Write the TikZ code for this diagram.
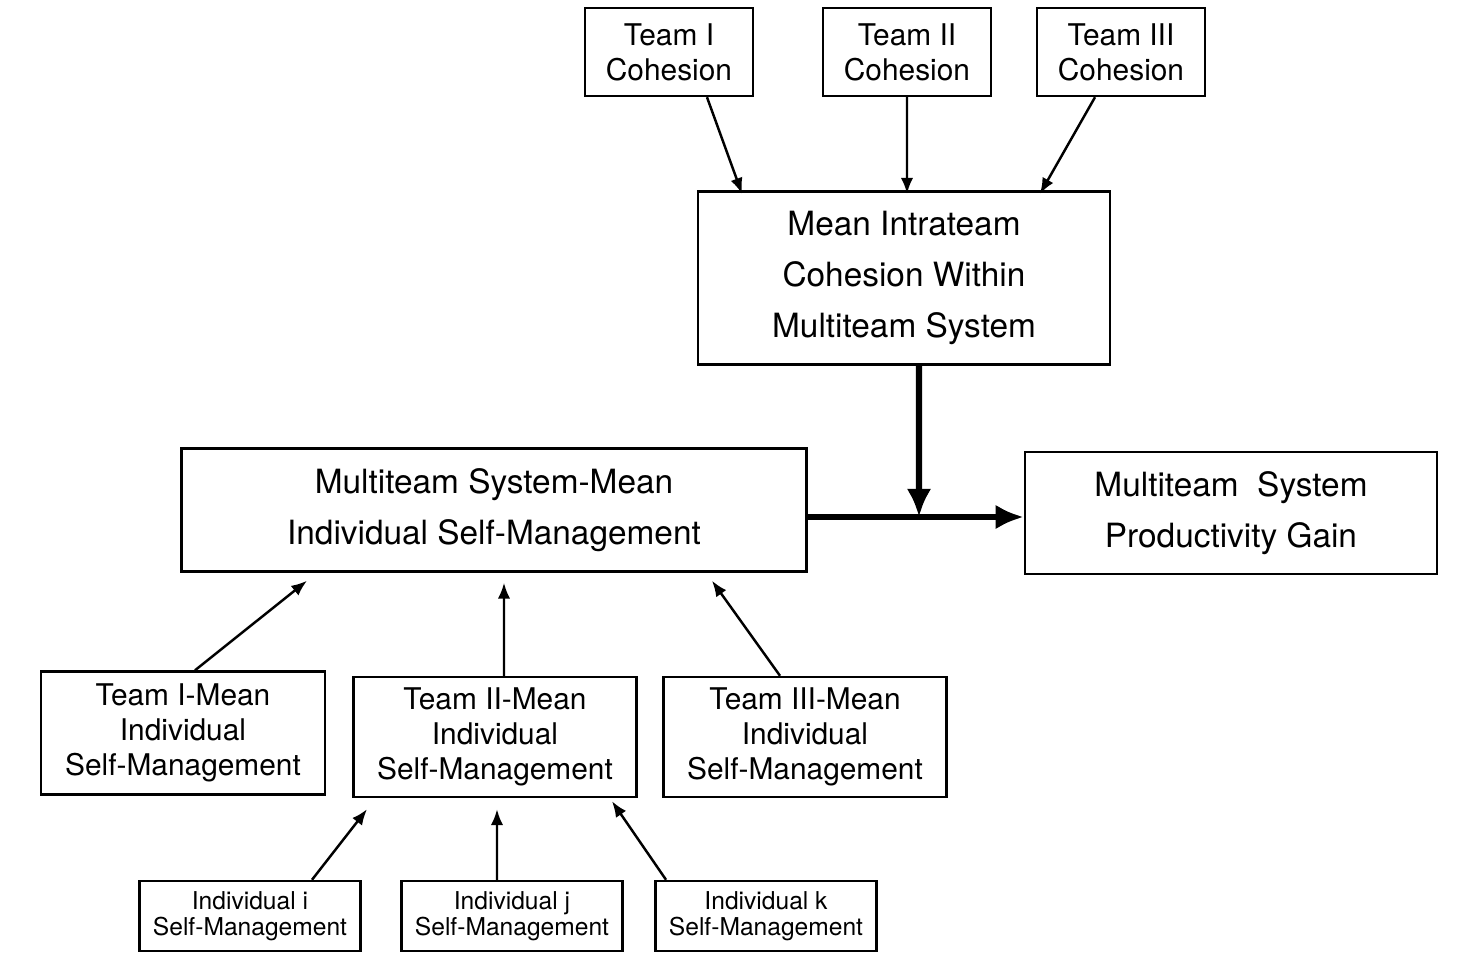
\documentclass[tikz,border=0pt]{standalone}
\usepackage{fontspec}
\setmainfont{TeX Gyre Heros}
\usetikzlibrary{arrows.meta,positioning}

\begin{document}
\begin{tikzpicture}[
    x=0.02cm, y=-0.02cm,
    >={Latex[length=9pt,width=7pt]},
    box/.style={draw, line width=1.4pt, align=center, inner sep=0pt},
    big_box/.style={box, font=\fontsize{19}{29}\selectfont},
    mid_box/.style={box, font=\fontsize{17}{20}\selectfont},
    small_box/.style={box, font=\fontsize{14}{15}\selectfont},
    link/.style={->, line width=1.4pt},
    main_link/.style={-{Latex[length=16pt,width=14pt]}, line width=3.6pt}
]
\useasboundingbox (0,0) rectangle (1457,953);

% --- NODES ---

% Top: team cohesion
\node[mid_box, minimum width=3.36cm, minimum height=1.76cm] (coh1) at (669,52) {Team I\\Cohesion};
\node[mid_box, minimum width=3.36cm, minimum height=1.76cm] (coh2) at (907,52) {Team II\\Cohesion};
\node[mid_box, minimum width=3.36cm, minimum height=1.76cm] (coh3) at (1121,52) {Team III\\Cohesion};

% Middle: system level
\node[big_box, minimum width=8.24cm, minimum height=3.46cm] (cohmean) at (904,278) {Mean Intrateam\\Cohesion Within\\Multiteam System};
\node[big_box, minimum width=12.5cm, minimum height=2.46cm] (smmean) at (494,510) {Multiteam System-Mean\\Individual Self-Management};
\node[big_box, minimum width=8.24cm, minimum height=2.44cm] (gain) at (1231,513) {Multiteam\ \ System\\Productivity Gain};
\coordinate (join) at (919,517);

% Team means
\node[mid_box, minimum width=5.68cm, minimum height=2.46cm] (tm1) at (183,733) {Team I-Mean\\Individual\\Self-Management};
\node[mid_box, minimum width=5.66cm, minimum height=2.4cm] (tm2) at (495,737) {Team II-Mean\\Individual\\Self-Management};
\node[mid_box, minimum width=5.66cm, minimum height=2.4cm] (tm3) at (805,737) {Team III-Mean\\Individual\\Self-Management};

% Individuals
\node[small_box, minimum width=4.42cm, minimum height=1.4cm] (indi) at (250,916) {Individual i\\Self-Management};
\node[small_box, minimum width=4.42cm, minimum height=1.4cm] (indj) at (512,916) {Individual j\\Self-Management};
\node[small_box, minimum width=4.42cm, minimum height=1.4cm] (indk) at (766,916) {Individual k\\Self-Management};

% --- EDGES ---
\draw[link] ([xshift=0.76cm]coh1.south) -- ([xshift=-3.24cm,yshift=-2pt]cohmean.north);
\draw[link] (coh2.south) -- ([xshift=0.06cm,yshift=-2pt]cohmean.north);
\draw[link] ([xshift=-0.52cm]coh3.south) -- ([xshift=2.72cm,yshift=-2pt]cohmean.north);

\draw[main_link] ([xshift=0.3cm]cohmean.south) -- (join);
\draw[main_link] (smmean.east |- join) -- (gain.west |- join);

\draw[link] ([xshift=0.24cm]tm1.north) -- ([xshift=-3.74cm,yshift=-0.16cm]smmean.south);
\draw[link] ([xshift=0.18cm]tm2.north) -- ([xshift=0.2cm,yshift=-0.2cm]smmean.south);
\draw[link] ([xshift=-0.5cm]tm3.north) -- ([xshift=4.36cm,yshift=-0.16cm]smmean.south);

\draw[link] ([xshift=1.24cm]indi.north) -- ([xshift=-2.56cm,yshift=-0.22cm]tm2.south);
\draw[link] ([xshift=-0.3cm]indj.north) -- ([xshift=0.04cm,yshift=-0.22cm]tm2.south);
\draw[link] ([xshift=-2cm]indk.north) -- ([xshift=2.34cm,yshift=-0.06cm]tm2.south);

\end{tikzpicture}
\end{document}
